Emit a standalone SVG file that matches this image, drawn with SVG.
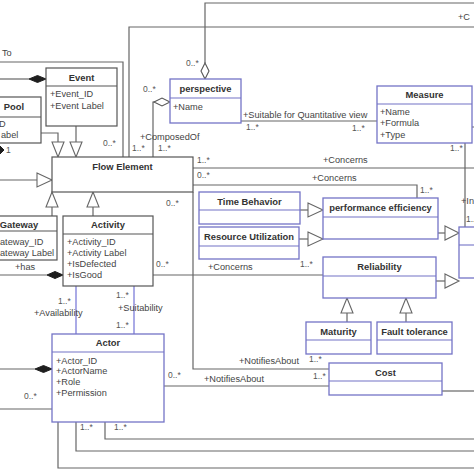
<svg xmlns="http://www.w3.org/2000/svg" width="474" height="474" viewBox="0 0 474 474">
<style>
.box{fill:#fff;stroke:#7373c6;stroke-width:1.3}
.gbox{fill:#fff;stroke:#555;stroke-width:1.2}
.sep{stroke:#7373c6;stroke-width:1.1}
.gsep{stroke:#555;stroke-width:1.1}
.ln{fill:none;stroke:#666;stroke-width:1.2}
.pl{fill:none;stroke:#8686dc;stroke-width:1.4}
.tri{fill:#fff;stroke:#666;stroke-width:1.1}
.dia{fill:#1e1e1e;stroke:#1e1e1e;stroke-width:1}
.odia{fill:#fff;stroke:#555;stroke-width:1.1}
.h{font-family:"Liberation Sans",Arial,sans-serif;font-weight:bold;font-size:9.4px;fill:#333;text-anchor:middle}
.a{font-family:"Liberation Sans",Arial,sans-serif;font-size:9.2px;fill:#444}
.m{font-family:"Liberation Sans",Arial,sans-serif;font-size:8.5px;fill:#555}
</style>
<rect width="474" height="474" fill="#fff"/>
<g id="connectors">
  <path class="ln" d="M205,63 V3 H474"/>
  <path class="ln" d="M474,27 H129 V157"/>
  <path class="ln" d="M155,102 H153 V157"/>
  <path class="ln" d="M241,121 H377"/>
  <path class="ln" d="M472,127 H474"/>
  <path class="ln" d="M465,143 V227"/>
  <path class="ln" d="M193,168 H474"/>
  <path class="ln" d="M193,185 H417 V198"/>
  <path class="ln" d="M300,210 H308"/>
  <path class="ln" d="M299,239 H308"/>
  <path class="ln" d="M438,233 H445"/>
  <path class="ln" d="M436,281 H445"/>
  <path class="ln" d="M347,322 V313"/>
  <path class="ln" d="M406,322 V313"/>
  <path class="ln" d="M153,275 H323"/>
  <path class="ln" d="M193,192 V369 H329"/>
  <path class="ln" d="M164,386 H329"/>
  <path class="ln" d="M442,391 H474"/>
  <path class="ln" d="M58,422 V468 H474"/>
  <path class="ln" d="M76,422 V451 H474"/>
  <path class="ln" d="M105,422 V439 H474"/>
  <path class="ln" d="M0,369 H35"/>
  <path class="ln" d="M0,409 H52"/>
  <path class="pl" d="M76,286 V334"/>
  <path class="pl" d="M134,286 V334"/>
  <path class="ln" d="M0,275 H47"/>
  <path class="ln" d="M52,216 V207"/>
  <path class="ln" d="M93,216 V207"/>
  <path class="ln" d="M0,180 H37"/>
  <path class="ln" d="M41,133 H58 V142"/>
  <path class="ln" d="M76,126 V142"/>
  <path class="ln" d="M0,79 H29"/>
  <path class="ln" d="M0,62 H123 V157"/>
  <!-- arrowheads -->
  <polygon class="odia" points="205,63 201,71 205,79 209,71"/>
  <polygon class="odia" points="154,102 162,98 170,102 162,106"/>
  <polygon class="dia" points="29,79 37.5,75.5 46,79 37.5,82.5"/>
  <polygon class="dia" points="47,275 55,271.5 63,275 55,278.5"/>
  <polygon class="dia" points="35,369 43.5,365.5 52,369 43.5,372.5"/>
  <polygon class="dia" points="-4,150 0,146 4,150 0,154"/>
  <polygon class="tri" points="308,203 323,210 308,217"/>
  <polygon class="tri" points="308,232 323,239 308,246"/>
  <polygon class="tri" points="445,226 459,233 445,240"/>
  <polygon class="tri" points="445,274 459,281 445,288"/>
  <polygon class="tri" points="341,313 347,298 353,313"/>
  <polygon class="tri" points="400,313 406,298 412,313"/>
  <polygon class="tri" points="46,207 52,192 58,207"/>
  <polygon class="tri" points="87,207 93,192 99,207"/>
  <polygon class="tri" points="37,173 52,180 37,187"/>
  <polygon class="tri" points="52,142 58,157 64,142"/>
  <polygon class="tri" points="70,142 76,157 82,142"/>
  <!-- labels -->
  <text class="a" x="2" y="56">To</text>
  <text class="m" x="103" y="146">0..*</text>
  <text class="m" x="6" y="153">1</text>
  <text class="a" x="458" y="20">+C</text>
  <text class="m" x="132" y="151">1..*</text>
  <text class="m" x="186" y="66">0..*</text>
  <text class="m" x="143" y="92">0..*</text>
  <text class="a" x="140" y="140">+ComposedOf</text>
  <text class="m" x="158" y="151">1..*</text>
  <text class="a" x="243" y="118">+Suitable for Quantitative view</text>
  <text class="m" x="246" y="130">1..*</text>
  <text class="m" x="352" y="131">1..*</text>
  <text class="m" x="450" y="151">1..*</text>
  <text class="a" x="461" y="204">+In</text>
  <text class="m" x="466" y="222">1..*</text>
  <text class="m" x="197" y="163">1..*</text>
  <text class="a" x="323" y="163">+Concerns</text>
  <text class="m" x="197" y="178">0..*</text>
  <text class="a" x="312" y="181">+Concerns</text>
  <text class="m" x="420" y="193">1..*</text>
  <text class="m" x="166" y="206">0..*</text>
  <text class="m" x="156" y="267">0..*</text>
  <text class="a" x="208" y="270">+Concerns</text>
  <text class="m" x="300" y="267">1..*</text>
  <text class="a" x="239" y="364">+NotifiesAbout</text>
  <text class="m" x="309" y="362">1..*</text>
  <text class="m" x="168" y="378">0..*</text>
  <text class="a" x="204" y="382">+NotifiesAbout</text>
  <text class="m" x="313" y="379">1..*</text>
  <text class="m" x="80" y="430">1..*</text>
  <text class="m" x="114" y="430">1..*</text>
  <text class="m" x="24" y="399">0..*</text>
  <text class="a" x="15" y="270">+has</text>
  <text class="m" x="58" y="304">1..*</text>
  <text class="a" x="34" y="316">+Availability</text>
  <text class="m" x="116" y="298">1..*</text>
  <text class="a" x="118" y="311">+Suitability</text>
  <text class="m" x="116" y="328">1..*</text>
</g>
<g id="event">
  <rect class="gbox" x="46" y="68" width="71" height="58"/>
  <line class="gsep" x1="46" y1="86" x2="117" y2="86"/>
  <text class="h" x="81.5" y="81">Event</text>
  <text class="a" x="50" y="97">+Event_ID</text>
  <text class="a" x="50" y="109">+Event Label</text>
</g>
<g id="pool">
  <rect class="gbox" x="-10" y="97" width="51" height="46"/>
  <line class="gsep" x1="-10" y1="117" x2="41" y2="117"/>
  <text class="h" x="14" y="110">Pool</text>
  <text class="a" x="-1" y="127">D</text>
  <text class="a" x="1" y="138">abel</text>
</g>
<g id="flow-element">
  <rect class="gbox" x="52" y="157" width="141" height="35"/>
  <text class="h" x="122.5" y="170">Flow Element</text>
</g>
<g id="gateway">
  <rect class="gbox" x="-10" y="216" width="67" height="44"/>
  <line class="gsep" x1="-10" y1="231" x2="57" y2="231"/>
  <text class="h" x="19" y="228">Gateway</text>
  <text class="a" x="0" y="245">ateway_ID</text>
  <text class="a" x="0" y="256">ateway Label</text>
</g>
<g id="activity">
  <rect class="gbox" x="63" y="216" width="90" height="70"/>
  <line class="gsep" x1="63" y1="234" x2="153" y2="234"/>
  <text class="h" x="108" y="228">Activity</text>
  <text class="a" x="67" y="245">+Activity_ID</text>
  <text class="a" x="67" y="256">+Activity Label</text>
  <text class="a" x="67" y="267">+IsDefected</text>
  <text class="a" x="67" y="278">+IsGood</text>
</g>
<g id="perspective">
  <rect class="box" x="170" y="79" width="71" height="44"/>
  <line class="sep" x1="170" y1="98" x2="241" y2="98"/>
  <text class="h" x="205.5" y="92">perspective</text>
  <text class="a" x="173" y="110">+Name</text>
</g>
<g id="measure">
  <rect class="box" x="377" y="86" width="95" height="57"/>
  <line class="sep" x1="377" y1="104" x2="472" y2="104"/>
  <text class="h" x="424.5" y="98">Measure</text>
  <text class="a" x="380" y="115">+Name</text>
  <text class="a" x="380" y="126">+Formula</text>
  <text class="a" x="380" y="138">+Type</text>
</g>
<g id="time-behavior">
  <rect class="box" x="199" y="192" width="101" height="32"/>
  <line class="sep" x1="199" y1="210" x2="300" y2="210"/>
  <text class="h" x="249.5" y="205">Time Behavior</text>
</g>
<g id="resource-utilization">
  <rect class="box" x="199" y="227" width="100" height="32"/>
  <line class="sep" x1="199" y1="246" x2="299" y2="246"/>
  <text class="h" x="249" y="240">Resource Utilization</text>
</g>
<g id="performance-efficiency">
  <rect class="box" x="323" y="198" width="115" height="41"/>
  <line class="sep" x1="323" y1="217" x2="438" y2="217"/>
  <text class="h" x="380.5" y="211">performance efficiency</text>
</g>
<g id="reliability">
  <rect class="box" x="323" y="257" width="113" height="41"/>
  <line class="sep" x1="323" y1="276" x2="436" y2="276"/>
  <text class="h" x="379.5" y="270">Reliability</text>
</g>
<g id="maturity">
  <rect class="box" x="306" y="322" width="65" height="32"/>
  <line class="sep" x1="306" y1="340" x2="371" y2="340"/>
  <text class="h" x="338.5" y="335">Maturity</text>
</g>
<g id="fault-tolerance">
  <rect class="box" x="377" y="322" width="75" height="32"/>
  <line class="sep" x1="377" y1="340" x2="452" y2="340"/>
  <text class="h" x="414.5" y="335">Fault tolerance</text>
</g>
<g id="cost">
  <rect class="box" x="329" y="363" width="113" height="32"/>
  <line class="sep" x1="329" y1="381" x2="442" y2="381"/>
  <text class="h" x="385.5" y="376">Cost</text>
</g>
<g id="actor">
  <rect class="box" x="52" y="334" width="112" height="88"/>
  <line class="sep" x1="52" y1="352" x2="164" y2="352"/>
  <text class="h" x="108" y="346">Actor</text>
  <text class="a" x="56" y="364">+Actor_ID</text>
  <text class="a" x="56" y="374">+ActorName</text>
  <text class="a" x="56" y="385">+Role</text>
  <text class="a" x="56" y="396">+Permission</text>
</g>
<g id="right-box">
  <rect class="box" x="459" y="227" width="30" height="51"/>
  <line class="sep" x1="459" y1="245" x2="489" y2="245"/>
</g>
</svg>
